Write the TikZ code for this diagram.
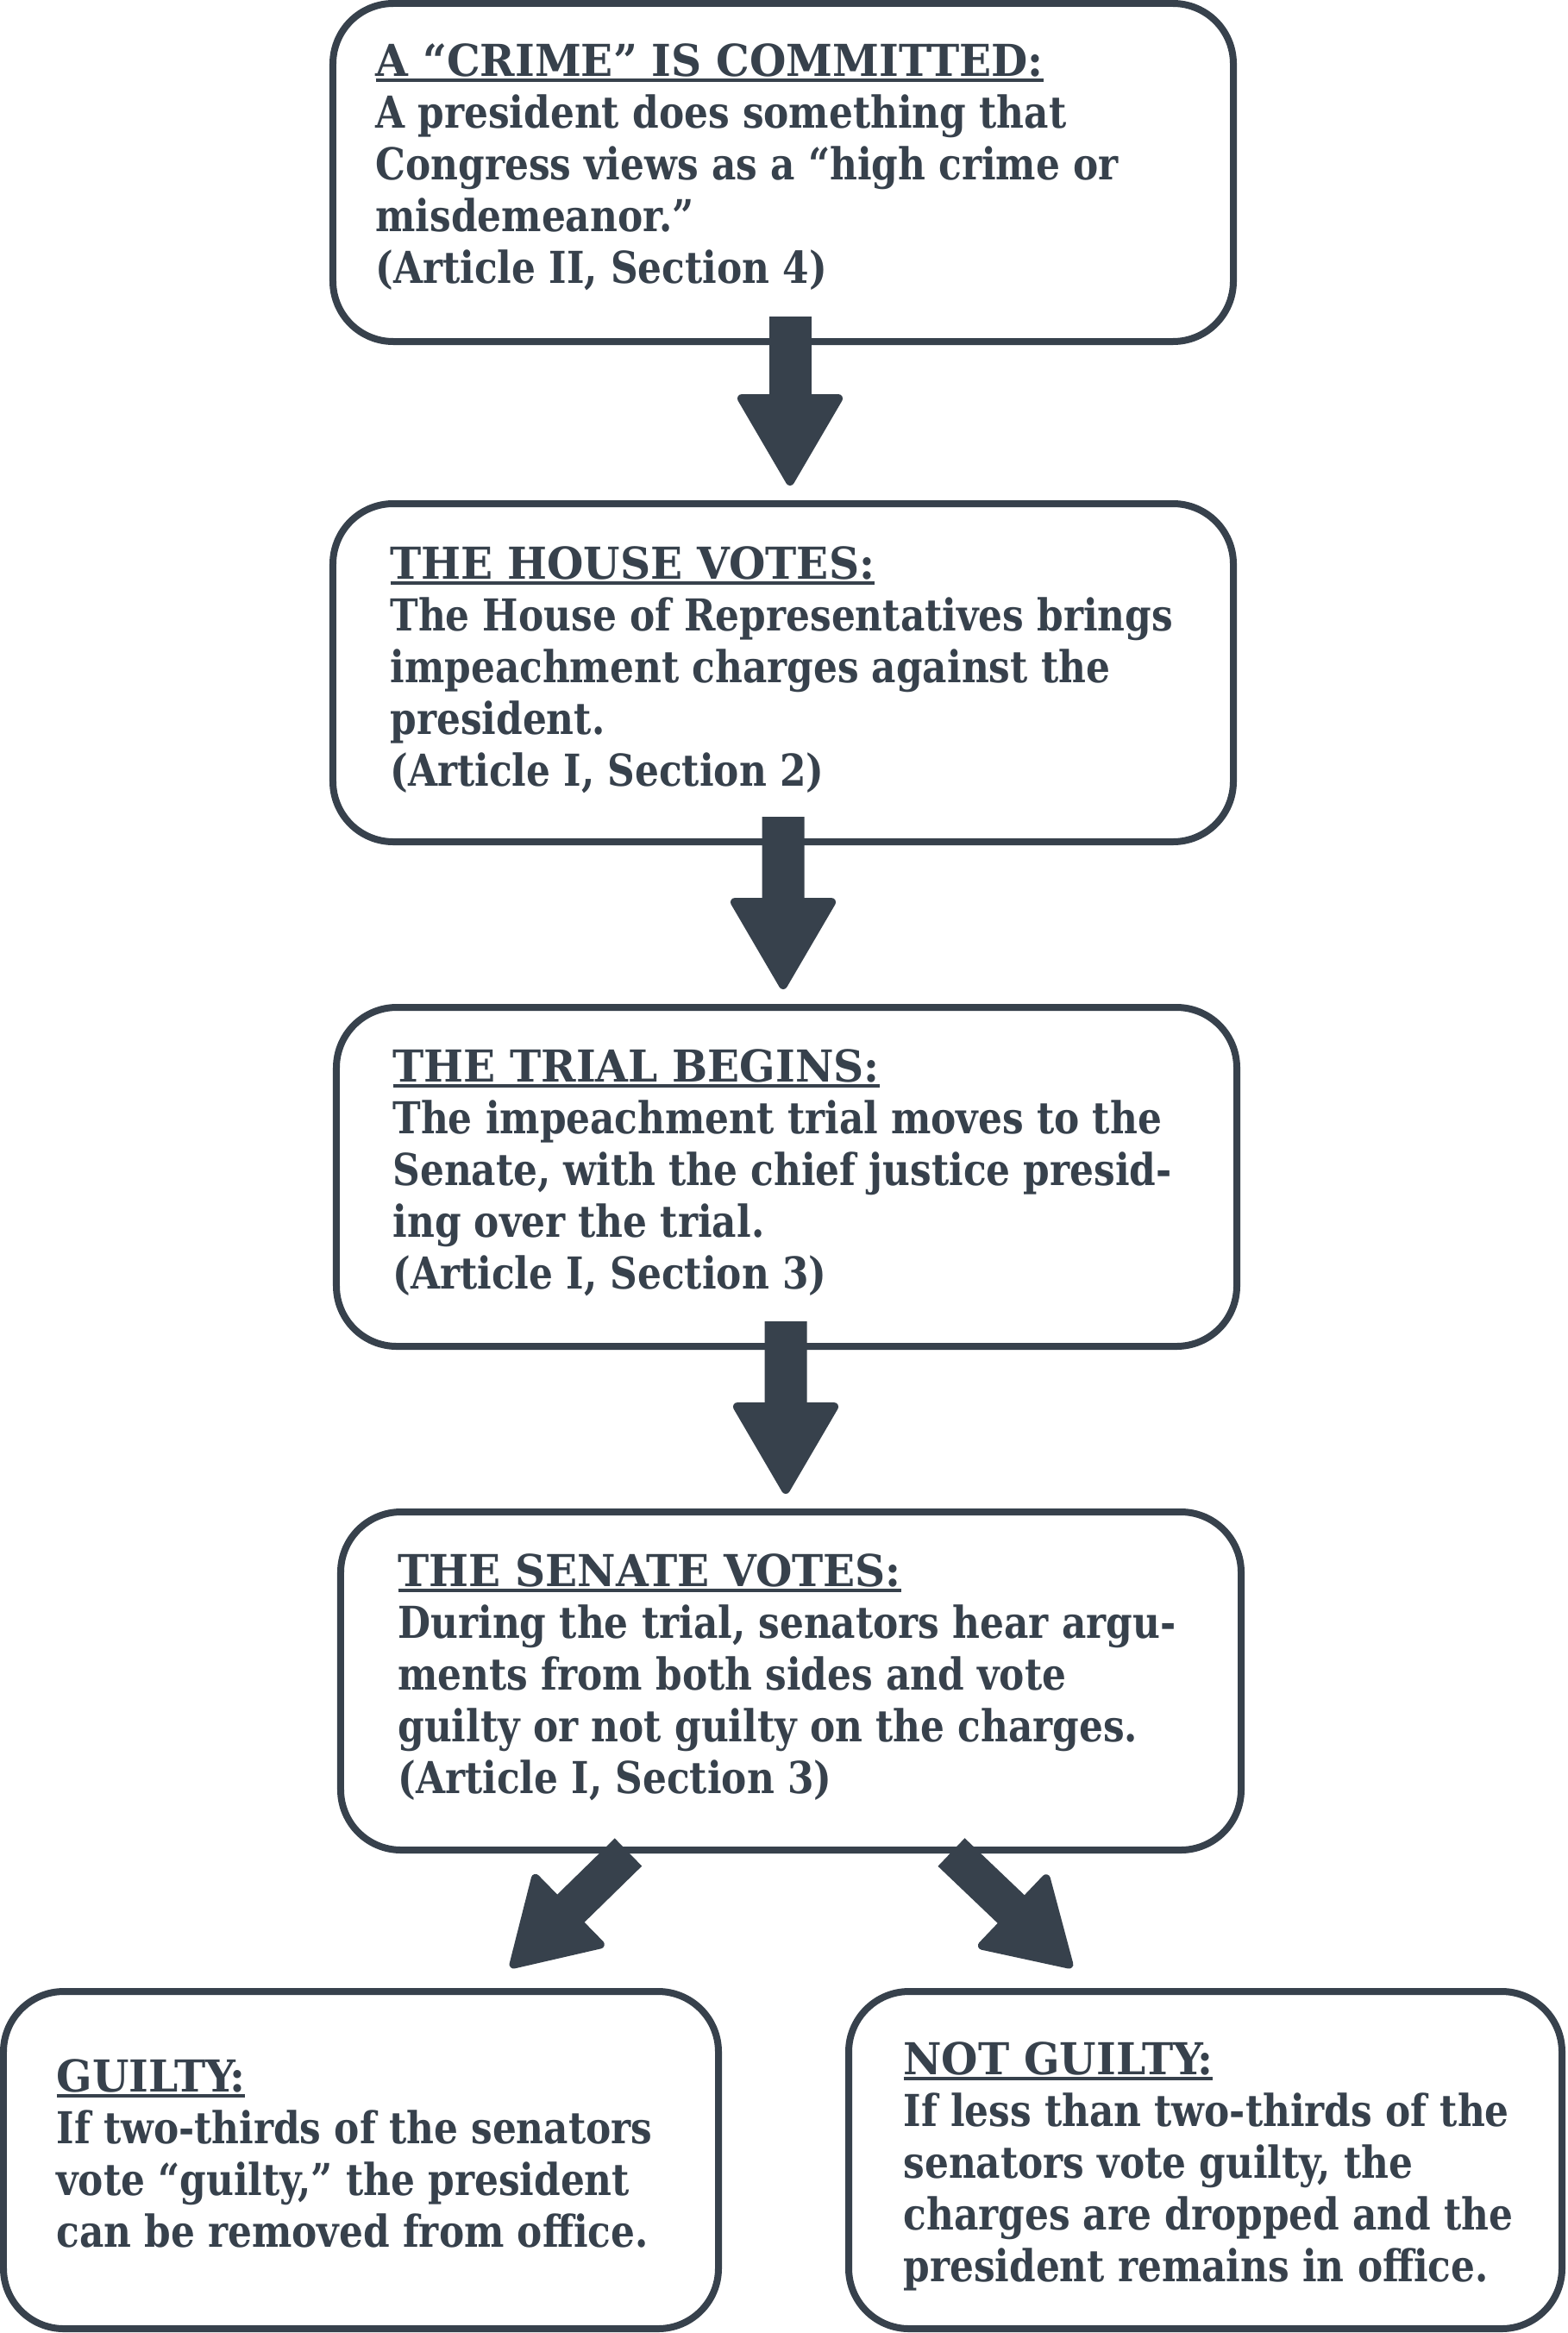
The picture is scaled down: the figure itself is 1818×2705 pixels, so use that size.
\documentclass[tikz,border=0pt]{standalone}
\usepackage{fontspec}
\usetikzlibrary{arrows.meta}
\newfontfamily\boxfont{DejaVu Serif Condensed}[FakeStretch=0.955]
\newfontfamily\headfont{DejaVu Serif Condensed}[FakeStretch=1.06]
\definecolor{ink}{RGB}{55,65,76}
\newcommand{\hdline}[1]{\setbox0=\hbox{\headfont\bfseries #1}\rlap{\rule[-2.6pt]{\wd0}{1.4pt}}\box0}
\tikzset{
  stepbox/.style={draw=ink, line width=3.2pt, rounded corners=28pt, inner sep=0pt, fill=white},
  txt/.style={anchor=north west, align=left, inner sep=0pt, text=ink,
    font=\boxfont\bfseries\fontsize{20.4pt}{24pt}\selectfont},
  vflow/.style={draw=ink, line width=19.6pt,
    -{Triangle[width=50.8pt, length=44.4pt, line width=4pt, round]}},
  dflow/.style={draw=ink, line width=18pt,
    -{Triangle[width=49pt, length=41pt, line width=4pt, round]}}
}
\begin{document}
\begin{tikzpicture}[x=0.4pt, y=-0.4pt]
\useasboundingbox[fill=white] (0,0) rectangle (1818,2705);
% boxes
\node[stepbox, minimum width=417.6pt, minimum height=156.8pt] (b1) at (908,200) {};
\node[stepbox, minimum width=417.6pt, minimum height=156.8pt] (b2) at (908,780) {};
\node[stepbox, minimum width=417.6pt, minimum height=157.2pt] (b3) at (912,1364.5) {};
\node[stepbox, minimum width=417.6pt, minimum height=156.8pt] (b4) at (917,1949) {};
\node[stepbox, minimum width=331.6pt, minimum height=156.4pt] (b5) at (418.5,2504.5) {};
\node[stepbox, minimum width=330.8pt, minimum height=156.4pt] (b6) at (1397.5,2504.5) {};
% texts
\node[txt] (t1) at (435,50) {\hdline{A “CRIME” IS COMMITTED:}\\
A president does something that\\
Congress views as a “high crime or\\
misdemeanor.”\\
(Article II, Section 4)};
\node[txt] (t2) at (452,633) {\hdline{THE HOUSE VOTES:}\\
The House of Representatives brings\\
impeachment charges against the\\
president.\\
(Article I, Section 2)};
\node[txt] (t3) at (455,1216) {\hdline{THE TRIAL BEGINS:}\\
The impeachment trial moves to the\\
Senate, with the chief justice presid-\\
ing over the trial.\\
(Article I, Section 3)};
\node[txt] (t4) at (461,1801) {\hdline{THE SENATE VOTES:}\\
During the trial, senators hear argu-\\
ments from both sides and vote\\
guilty or not guilty on the charges.\\
(Article I, Section 3)};
\node[txt] (t5) at (65,2387) {\hdline{GUILTY:}\\
If two-thirds of the senators\\
vote “guilty,” the president\\
can be removed from office.};
\node[txt] (t6) at (1047,2367) {\hdline{NOT GUILTY:}\\
If less than two-thirds of the\\
senators vote guilty, the\\
charges are dropped and the\\
president remains in office.};
% arrows
\draw[vflow] ([xshift=3.2pt, yshift=13.2pt]b1.south) -- ([xshift=3.2pt, yshift=6.8pt]b2.north);
\draw[vflow] ([yshift=13.2pt]b2.south) -- ([xshift=-1.6pt, yshift=6.8pt]b3.north);
\draw[vflow] ([xshift=-0.4pt, yshift=13.2pt]b3.south) -- ([xshift=-2.4pt, yshift=6.8pt]b4.north);
\draw[dflow] ([xshift=-75.4pt, yshift=0.6pt]b4.south) -- ([xshift=69.4pt, yshift=9.6pt]b5.north);
\draw[dflow] ([xshift=74.4pt, yshift=0.6pt]b4.south) -- ([xshift=-61.8pt, yshift=9.6pt]b6.north);
\end{tikzpicture}
\end{document}
